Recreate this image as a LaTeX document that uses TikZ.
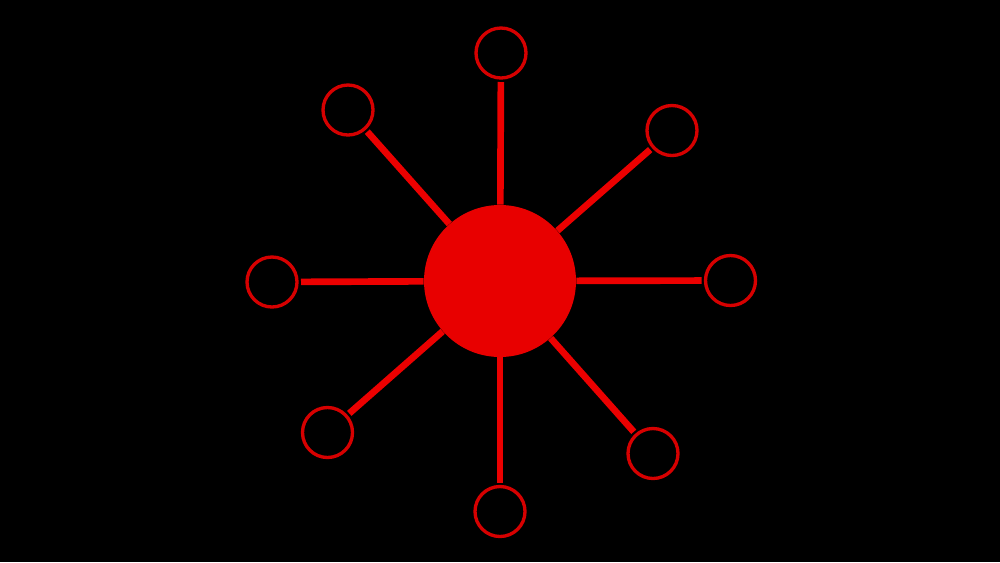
\documentclass[tikz,border=0pt]{standalone}
\begin{document}
\begin{tikzpicture}[x=0.02cm,y=-0.02cm,
  hub/.style={circle,fill=hubred,draw=none,minimum size=152*0.02cm,inner sep=0pt},
  sat/.style={circle,draw=satred,line width=1.9pt,minimum size=50*0.02cm,inner sep=0pt,outer sep=0pt},
  spoke/.style={draw=spokered,line width=3.8pt,shorten >=4*0.02cm}]
\definecolor{hubred}{RGB}{232,0,0}
\definecolor{satred}{RGB}{214,0,0}
\definecolor{spokered}{RGB}{236,0,0}
\fill[black] (0,0) rectangle (1000,562);
\useasboundingbox (0,0) rectangle (1000,562);
\node[hub] (c) at (500,281) {};
\node[sat] (s1) at (501,53) {};
\node[sat] (s2) at (672,130.5) {};
\node[sat] (s3) at (730.5,280.5) {};
\node[sat] (s4) at (653,453.5) {};
\node[sat] (s5) at (500,511.5) {};
\node[sat] (s6) at (327.5,432.5) {};
\node[sat] (s7) at (272,282) {};
\node[sat] (s8) at (348,110) {};
\foreach \s in {s1,s2,s3,s4,s5,s6,s7,s8}
  \draw[spoke] (c) -- (\s);
\end{tikzpicture}
\end{document}
